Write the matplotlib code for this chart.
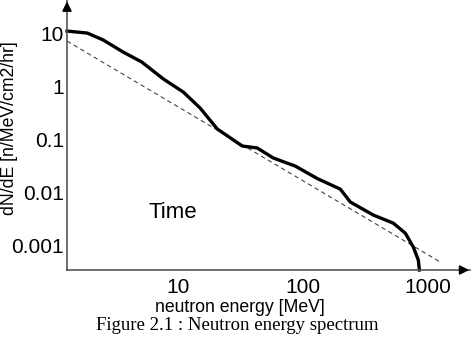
import matplotlib
matplotlib.use("Agg")
import matplotlib.pyplot as plt

# spectrum (energy in MeV, flux in n/MeV/cm2/hr)
energy = [1.28, 1.86, 2.5, 3.6, 5.1, 7.6, 11.0, 15.0, 20.6, 32.7, 43.1, 58,
          87, 131, 200, 241, 368, 533, 666, 772, 847, 863]
flux = [10.9, 10.0, 7.4, 4.4, 2.84, 1.36, 0.77, 0.385, 0.155, 0.074, 0.068,
        0.044, 0.031, 0.018, 0.0114, 0.0065, 0.0037, 0.0026, 0.00168,
        0.00092, 0.00052, 0.00034]

# dashed power-law guide
fit_energy = [1.28, 1270]
fit_flux = [7.06, 0.00048]

xticks = [10, 100, 1000]
xticklabels = ["10", "100", "1000"]
yticks = [10, 1, 0.1, 0.01, 0.001]
yticklabels = ["10", "1", "0.1", "0.01", "0.001"]

plt.rcParams['font.family'] = ['Liberation Sans', 'DejaVu Sans']

fig = plt.figure(figsize=(4.74, 3.38), dpi=100)
ax = fig.add_axes([67 / 474, 68 / 338, 403 / 474, 270 / 338])
ax.set_xscale('log')
ax.set_yscale('log')
ax.set_xlim(1.28, 2200)
ax.set_ylim(0.00034, 42)

ax.plot(fit_energy, fit_flux, color='#444444', lw=0.8, dashes=(4, 3))
ax.plot(energy, flux, color='black', lw=2.4, solid_joinstyle='round', clip_on=False)

ax.set_xticks(xticks)
ax.set_xticklabels(xticklabels)
ax.set_yticks(yticks)
ax.set_yticklabels(yticklabels)
ax.minorticks_off()
ax.tick_params(length=0, labelsize=15)
ax.tick_params(axis='x', pad=6)
ax.tick_params(axis='y', pad=2)

for s in ['top', 'right']:
    ax.spines[s].set_visible(False)
for s in ['left', 'bottom']:
    ax.spines[s].set_color('#555555')
    ax.spines[s].set_linewidth(1.2)

# arrow heads on the axes
ax.annotate('', xy=(1.005, 0), xytext=(0.97, 0), xycoords='axes fraction',
            arrowprops=dict(arrowstyle='-|>', color='black', lw=1.2,
                            mutation_scale=14), annotation_clip=False)
ax.annotate('', xy=(0, 1.005), xytext=(0, 0.95), xycoords='axes fraction',
            arrowprops=dict(arrowstyle='-|>', color='black', lw=1.2,
                            mutation_scale=14), annotation_clip=False)

ax.text((173 - 67) / 403, (270 - 212) / 270, 'Time',
        transform=ax.transAxes, ha='center', va='center', fontsize=16)

fig.text(9.5 / 474, 1 - 128 / 338, 'dN/dE [n/MeV/cm2/hr]', rotation=90,
         ha='center', va='center', fontsize=12.7)
fig.text(240 / 474, 1 - 307 / 338, 'neutron energy [MeV]',
         ha='center', va='center', fontsize=12.7)
fig.text(237 / 474, 1 - 326 / 338, 'Figure 2.1 : Neutron energy spectrum',
         ha='center', va='center', fontsize=13.5, family='Liberation Serif')

fig.savefig('out.png', dpi=100)
